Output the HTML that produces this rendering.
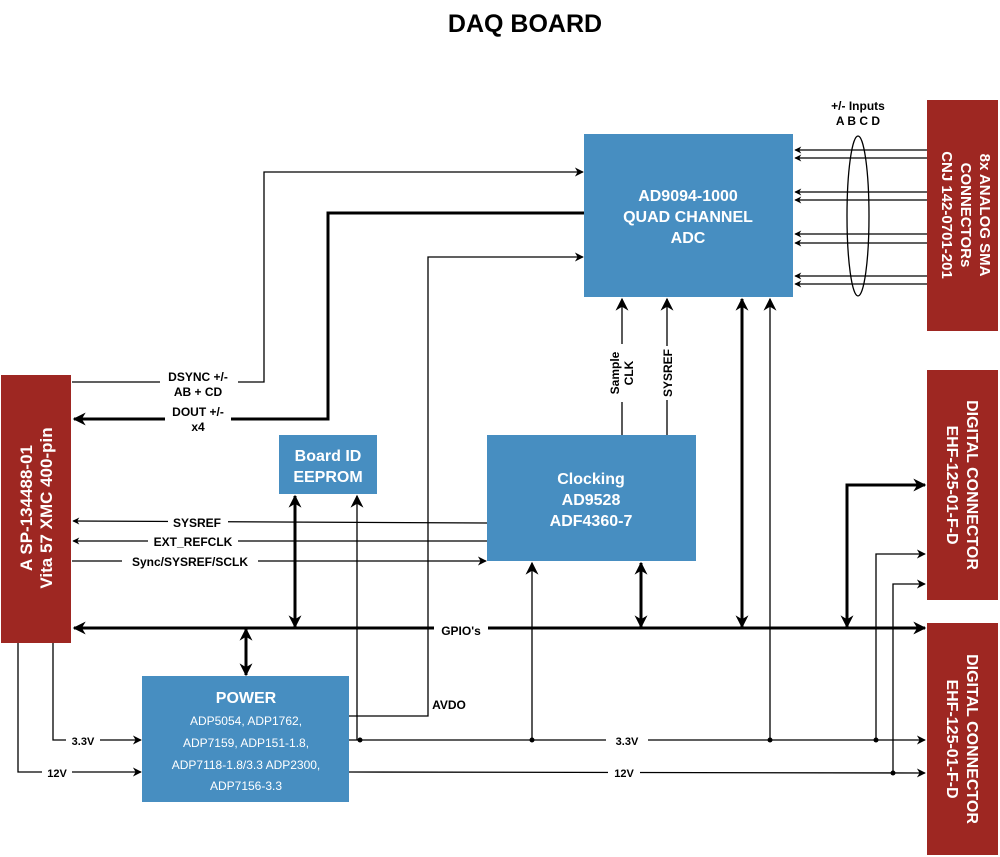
<!DOCTYPE html>
<html><head><meta charset="utf-8"><style>
html,body{margin:0;padding:0;background:#fff}
svg{display:block}
text{font-family:"Liberation Sans",Arial,sans-serif;font-weight:bold}
</style></head><body>
<svg width="1000" height="857" viewBox="0 0 1000 857" xmlns="http://www.w3.org/2000/svg">
<defs>
<marker id="a" viewBox="0 0 10 10" refX="9" refY="5" markerWidth="7" markerHeight="7" orient="auto-start-reverse" markerUnits="userSpaceOnUse"><path d="M0,0 L10,5 L0,10 L3,5 z" fill="#000"/></marker>
<marker id="b" viewBox="0 0 10 10" refX="9" refY="5" markerWidth="13" markerHeight="13" orient="auto-start-reverse" markerUnits="userSpaceOnUse"><path d="M0,0 L10,5 L0,10 L3,5 z" fill="#000"/></marker>
<marker id="c" viewBox="0 0 10 10" refX="9" refY="5" markerWidth="9" markerHeight="9" orient="auto-start-reverse" markerUnits="userSpaceOnUse"><path d="M0,0 L10,5 L0,10 L3,5 z" fill="#000"/></marker>
</defs>
<text x="525" y="32" font-size="25" text-anchor="middle">DAQ BOARD</text>

<!-- boxes -->
<rect x="584" y="134" width="209" height="163" fill="#478ec1"/>
<text fill="#fff" font-size="16" text-anchor="middle"><tspan x="688" y="201">AD9094-1000</tspan><tspan x="688" y="222">QUAD CHANNEL</tspan><tspan x="688" y="243">ADC</tspan></text>

<rect x="927" y="100" width="71" height="231" fill="#9e2722"/>
<text fill="#fff" font-size="15" text-anchor="middle" transform="translate(962,215) rotate(90)"><tspan x="0" y="-18">8x ANALOG SMA</tspan><tspan x="0" y="1">CONNECTORs</tspan><tspan x="0" y="20">CNJ 142-0701-201</tspan></text>

<rect x="927" y="370" width="71" height="230" fill="#9e2722"/>
<text fill="#fff" font-size="16" text-anchor="middle" transform="translate(962,485) rotate(90)"><tspan x="0" y="-5">DIGITAL CONNECTOR</tspan><tspan x="0" y="15">EHF-125-01-F-D</tspan></text>

<rect x="927" y="623" width="71" height="232" fill="#9e2722"/>
<text fill="#fff" font-size="16" text-anchor="middle" transform="translate(962,739) rotate(90)"><tspan x="0" y="-5">DIGITAL CONNECTOR</tspan><tspan x="0" y="15">EHF-125-01-F-D</tspan></text>

<rect x="1" y="375" width="70" height="268" fill="#9e2722"/>
<text fill="#fff" font-size="17" text-anchor="middle" transform="translate(36,508) rotate(-90)"><tspan x="0" y="-4">A SP-134488-01</tspan><tspan x="0" y="16">Vita 57 XMC 400-pin</tspan></text>

<rect x="279" y="435" width="98" height="59" fill="#478ec1"/>
<text fill="#fff" font-size="16" text-anchor="middle"><tspan x="328" y="461">Board ID</tspan><tspan x="328" y="482">EEPROM</tspan></text>

<rect x="487" y="435" width="209" height="126" fill="#478ec1"/>
<text fill="#fff" font-size="16" text-anchor="middle"><tspan x="591" y="484">Clocking</tspan><tspan x="591" y="505">AD9528</tspan><tspan x="591" y="526">ADF4360-7</tspan></text>

<rect x="142" y="676" width="207" height="126" fill="#478ec1"/>
<text fill="#fff" font-size="16" text-anchor="middle" x="246" y="703">POWER</text>
<text fill="#fff" font-size="12" font-weight="normal" text-anchor="middle" style="font-weight:normal"><tspan x="246" y="725">ADP5054, ADP1762,</tspan><tspan x="246" y="747">ADP7159, ADP151-1.8,</tspan><tspan x="246" y="769">ADP7118-1.8/3.3 ADP2300,</tspan><tspan x="246" y="790">ADP7156-3.3</tspan></text>

<g stroke="#000" fill="none" stroke-width="1.3">
<!-- inputs -->
<line x1="927" y1="150" x2="795" y2="150" marker-end="url(#a)"/>
<line x1="927" y1="158" x2="795" y2="158" marker-end="url(#a)"/>
<line x1="927" y1="192" x2="795" y2="192" marker-end="url(#a)"/>
<line x1="927" y1="200" x2="795" y2="200" marker-end="url(#a)"/>
<line x1="927" y1="234" x2="795" y2="234" marker-end="url(#a)"/>
<line x1="927" y1="243" x2="795" y2="243" marker-end="url(#a)"/>
<line x1="927" y1="276" x2="795" y2="276" marker-end="url(#a)"/>
<line x1="927" y1="284" x2="795" y2="284" marker-end="url(#a)"/>
<ellipse cx="858" cy="216" rx="11" ry="80"/>
<!-- DSYNC -->
<polyline points="72,382 264,382 264,172 583,172" marker-end="url(#c)"/>
<!-- AVDO -->
<polyline points="349,716 428,716 428,257 583,257" marker-end="url(#c)"/>
<!-- sample clk / sysref -->
<line x1="622" y1="435" x2="622" y2="299" marker-end="url(#b)"/>
<line x1="667" y1="435" x2="667" y2="299" marker-end="url(#b)"/>
<line x1="770" y1="740" x2="770" y2="299" marker-end="url(#b)"/>
<!-- clock side lines -->
<line x1="487" y1="523" x2="73" y2="521" marker-end="url(#a)"/>
<line x1="487" y1="541" x2="73" y2="541" marker-end="url(#a)"/>
<line x1="72" y1="561" x2="486" y2="561" marker-end="url(#c)"/>
<line x1="357" y1="740" x2="357" y2="496" marker-end="url(#b)"/>
<line x1="532" y1="740" x2="532" y2="563" marker-end="url(#b)"/>
<!-- power in -->
<polyline points="53,643 53,740 141,740" marker-end="url(#c)"/>
<polyline points="18,643 18,772 141,772" marker-end="url(#c)"/>
<!-- power out -->
<line x1="349" y1="740" x2="925" y2="740" marker-end="url(#c)"/>
<line x1="349" y1="772" x2="925" y2="773" marker-end="url(#c)"/>
<polyline points="876,740 876,554 925,554" marker-end="url(#c)"/>
<polyline points="893,773 893,584 925,584" marker-end="url(#c)"/>
</g>
<g stroke="#000" fill="none" stroke-width="3">
<polyline points="584,213 328,213 328,419 74,419" marker-end="url(#b)"/>
<line x1="74" y1="628" x2="925" y2="628" marker-start="url(#b)" marker-end="url(#b)"/>
<line x1="295" y1="496" x2="295" y2="627" marker-start="url(#b)" marker-end="url(#b)"/>
<line x1="246" y1="629" x2="246" y2="675" marker-start="url(#b)" marker-end="url(#b)"/>
<line x1="641" y1="563" x2="641" y2="627" marker-start="url(#b)" marker-end="url(#b)"/>
<line x1="742" y1="299" x2="742" y2="627" marker-start="url(#b)" marker-end="url(#b)"/>
<polyline points="847,627 847,485 925,485" marker-start="url(#b)" marker-end="url(#b)"/>
</g>
<g fill="#000">
<circle cx="360" cy="740" r="2.5"/><circle cx="532" cy="740" r="2.5"/><circle cx="770" cy="740" r="2.5"/><circle cx="876" cy="740" r="2.5"/><circle cx="893" cy="773" r="2.5"/>
</g>
<!-- labels -->
<g font-size="12" text-anchor="middle">
<rect x="160" y="368" width="78" height="30" fill="#fff"/>
<text x="198" y="381">DSYNC +/-</text><text x="198" y="396">AB + CD</text>
<rect x="165" y="404" width="66" height="30" fill="#fff"/>
<text x="198" y="416">DOUT +/-</text><text x="198" y="431">x4</text>
<text x="858" y="110">+/- Inputs</text><text x="858" y="125">A B C D</text>
<rect x="168" y="514" width="60" height="16" fill="#fff"/><text x="197" y="527">SYSREF</text>
<rect x="148" y="533" width="90" height="16" fill="#fff"/><text x="193" y="546">EXT_REFCLK</text>
<rect x="122" y="553" width="136" height="16" fill="#fff"/><text x="190" y="566">Sync/SYSREF/SCLK</text>
<rect x="434" y="620" width="54" height="16" fill="#fff"/><text x="461" y="635">GPIO's</text>
<text x="449" y="709">AVDO</text>
<rect x="66" y="733" width="34" height="14" fill="#fff"/><text x="83" y="745" font-size="11">3.3V</text>
<rect x="42" y="765" width="30" height="14" fill="#fff"/><text x="57" y="777" font-size="11">12V</text>
<rect x="606" y="733" width="42" height="14" fill="#fff"/><text x="627" y="745" font-size="11">3.3V</text>
<rect x="608" y="765" width="32" height="14" fill="#fff"/><text x="624" y="777" font-size="11">12V</text>
<rect x="606" y="344" width="34" height="58" fill="#fff"/>
<text font-size="12" transform="translate(622,373) rotate(-90)"><tspan x="0" y="-3">Sample</tspan><tspan x="0" y="11">CLK</tspan></text>
<rect x="660" y="346" width="16" height="54" fill="#fff"/>
<text font-size="12" transform="translate(672,373) rotate(-90)" x="0" y="0">SYSREF</text>
</g>
</svg>
</body></html>
